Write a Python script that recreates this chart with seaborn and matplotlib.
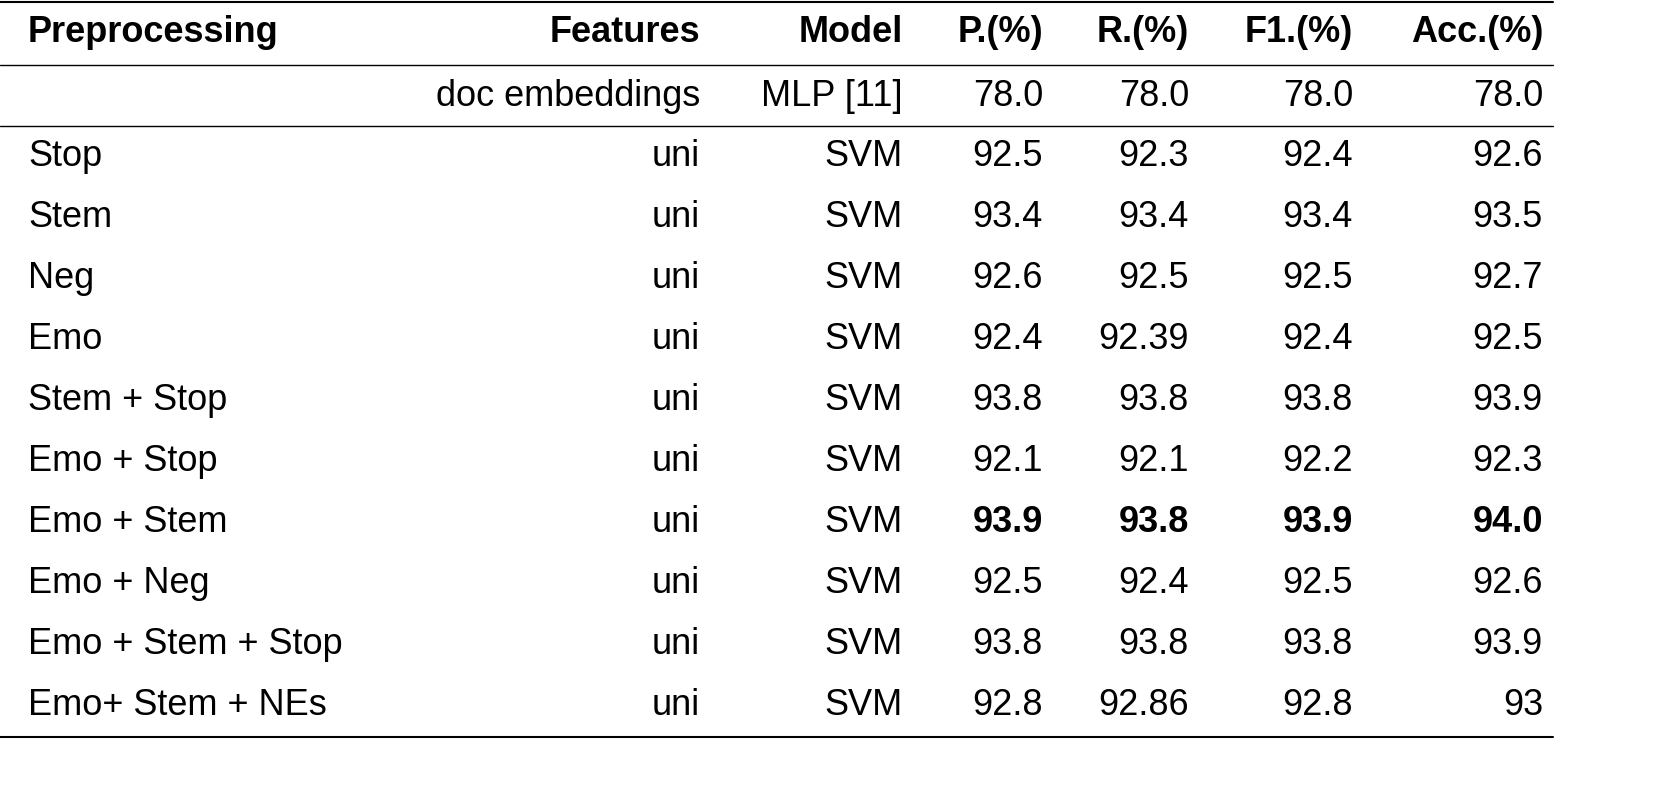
import matplotlib
matplotlib.use("Agg")
import matplotlib.pyplot as plt
import seaborn as sns

sns.set_theme(style="white")
plt.rcParams['font.family'] = ['Liberation Sans', 'DejaVu Sans']
plt.rcParams['text.color'] = 'black'

headers = ["Preprocessing", "Features", "Model", "P.(%)", "R.(%)", "F1.(%)", "Acc.(%)"]
preprocessing = ["", "Stop", "Stem", "Neg", "Emo", "Stem + Stop", "Emo + Stop", "Emo + Stem",
                 "Emo + Neg", "Emo + Stem + Stop", "Emo+ Stem + NEs"]
features = ["doc embeddings"] + ["uni"] * 10
models = ["MLP [11]"] + ["SVM"] * 10
precision = ["78.0", "92.5", "93.4", "92.6", "92.4", "93.8", "92.1", "93.9", "92.5", "93.8", "92.8"]
recall = ["78.0", "92.3", "93.4", "92.5", "92.39", "93.8", "92.1", "93.8", "92.4", "93.8", "92.86"]
f1 = ["78.0", "92.4", "93.4", "92.5", "92.4", "93.8", "92.2", "93.9", "92.5", "93.8", "92.8"]
acc = ["78.0", "92.6", "93.5", "92.7", "92.5", "93.9", "92.3", "94.0", "92.6", "93.9", "93"]
bold_row = 7

fig = plt.figure(figsize=(16.67, 7.85), dpi=100)
ax = fig.add_axes([0, 0, 1, 1])
ax.set_xlim(0, 1667)
ax.set_ylim(785, 0)
ax.axis("off")

fs = 26
col_x = [28, 700, 903, 1043, 1189, 1353, 1543]
col_ha = ["left"] + ["right"] * 6

for x, ha, h in zip(col_x, col_ha, headers):
    ax.text(x, 33, h, ha=ha, va="center", fontsize=fs, fontweight="bold", color="black")

columns = [preprocessing, features, models, precision, recall, f1, acc]
row_y = [96] + [157 + 60.9 * i for i in range(10)]
for r, y in enumerate(row_y):
    for c, (x, ha) in enumerate(zip(col_x, col_ha)):
        w = "bold" if (r == bold_row and c >= 3) else "normal"
        ax.text(x, y, columns[c][r], ha=ha, va="center", fontsize=fs, fontweight=w, color="black")

for y, lw in [(2, 1.5), (65, 1.0), (126, 1.0), (737, 1.5)]:
    ax.plot([0, 1553], [y, y], color="black", lw=lw)

fig.savefig("out.png", dpi=100)
